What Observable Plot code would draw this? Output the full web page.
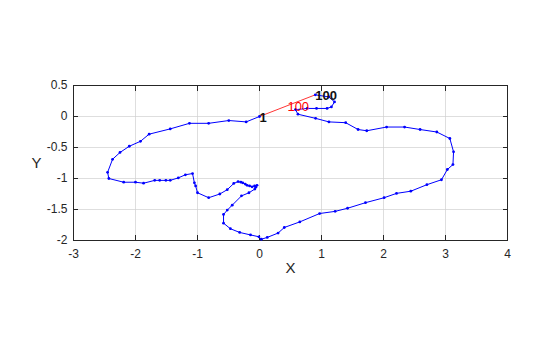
<!DOCTYPE html>
<html>
<head>
<meta charset="utf-8">
<script src="https://cdn.jsdelivr.net/npm/d3@7"></script>
<script src="https://cdn.jsdelivr.net/npm/@observablehq/plot@0.6"></script>
<style>
  html, body { margin: 0; padding: 0; background: #fff; }
  #chart { width: 560px; height: 337px; }
</style>
</head>
<body>
<div id="chart"></div>
<script>
// Path points (1 .. 100)
const xs = [0, -0.215, -0.495, -0.82, -1.13, -1.44, -1.78, -1.92, -2.10, -2.25,
  -2.37, -2.45, -2.43, -2.19, -2.00, -1.87, -1.69, -1.61, -1.51, -1.44,
  -1.31, -1.195, -1.08, -1.05, -1.03, -1.00, -0.82, -0.64, -0.52, -0.415,
  -0.345, -0.30, -0.27, -0.23, -0.20, -0.16, -0.12, -0.08, -0.04, -0.06,
  -0.075, -0.17, -0.29, -0.44, -0.52, -0.58, -0.58, -0.47, -0.32, -0.145,
  -0.01, 0.03, 0.125, 0.30, 0.40, 0.65, 0.97, 1.22, 1.42, 1.71,
  2.01, 2.21, 2.44, 2.70, 2.935, 3.03, 3.12, 3.13, 3.07, 2.86,
  2.59, 2.34, 2.05, 1.73, 1.59, 1.39, 1.12, 0.905, 0.62, 0.58,
  0.77, 0.92, 1.09, 1.16, 1.21, 1.12, 0.90];
const ys = [0, -0.087, -0.065, -0.11, -0.11, -0.20, -0.285, -0.40, -0.48, -0.58,
  -0.69, -0.90, -1.00, -1.06, -1.06, -1.076, -1.03, -1.03, -1.03, -1.03,
  -0.99, -0.94, -0.92, -1.07, -1.12, -1.23, -1.31, -1.25, -1.18, -1.08,
  -1.05, -1.06, -1.07, -1.09, -1.11, -1.12, -1.135, -1.12, -1.11, -1.14,
  -1.17, -1.23, -1.28, -1.43, -1.51, -1.58, -1.72, -1.81, -1.87, -1.91,
  -1.94, -1.98, -1.95, -1.88, -1.79, -1.70, -1.565, -1.53, -1.48, -1.39,
  -1.31, -1.24, -1.205, -1.10, -1.02, -0.855, -0.775, -0.57, -0.355, -0.25,
  -0.21, -0.17, -0.17, -0.23, -0.21, -0.10, -0.087, -0.03, 0.037, 0.11,
  0.13, 0.13, 0.13, 0.155, 0.235, 0.315, 0.35];

const xTicks = [-3, -2, -1, 0, 1, 2, 3, 4];
const yTicks = [-2, -1.5, -1, -0.5, 0, 0.5];
const endLabels = ["1", "100"];
const midLabel = "100";
const xLabel = "X";
const yLabel = "Y";

const pts = xs.map((x, i) => ({x, y: ys[i]}));
const first = pts[0], last = pts[pts.length - 1];
const ends = [{...first, t: endLabels[0]}, {...last, t: endLabels[1]}];
const mid = [{x: (first.x + last.x) / 2, y: (first.y + last.y) / 2, t: midLabel}];

const font = "'Liberation Sans', Arial, Helvetica, sans-serif";
const ink = "#262626";

const chart = Plot.plot({
  width: 560,
  height: 337,
  marginLeft: 73,
  marginRight: 53,
  marginTop: 85,
  marginBottom: 97,
  style: {fontFamily: font, fontSize: "12px", color: ink, background: "#fff"},
  x: {domain: [-3, 4]},
  y: {domain: [-2, 0.5]},
  marks: [
    Plot.gridX(xTicks, {stroke: "#d0d0d0", strokeOpacity: 1, strokeWidth: 0.7}),
    Plot.gridY(yTicks, {stroke: "#d0d0d0", strokeOpacity: 1, strokeWidth: 0.7}),
    Plot.axisX(xTicks, {anchor: "bottom", tickSize: 0, tickPadding: 9, label: null, fontSize: 12, fill: ink,
      tickFormat: d => String(d)}),
    Plot.axisY(yTicks, {anchor: "left", tickSize: 0, tickPadding: 6, label: null, fontSize: 12, fill: ink,
      tickFormat: d => String(d)}),
    Plot.axisX(xTicks, {anchor: "bottom", tickSize: 5, dy: -5, tickFormat: () => "", label: null, stroke: ink}),
    Plot.axisX(xTicks, {anchor: "top", tickSize: 5, dy: 5, tickFormat: () => "", label: null, stroke: ink}),
    Plot.axisY(yTicks, {anchor: "left", tickSize: 5, dx: 5, tickFormat: () => "", label: null, stroke: ink}),
    Plot.axisY(yTicks, {anchor: "right", tickSize: 5, dx: -5, tickFormat: () => "", label: null, stroke: ink}),
    Plot.frame({stroke: ink, strokeWidth: 1}),
    Plot.line([first, last], {x: "x", y: "y", stroke: "red", strokeWidth: 0.8}),
    Plot.line(pts, {x: "x", y: "y", stroke: "blue", strokeWidth: 1}),
    Plot.dot(pts, {x: "x", y: "y", r: 1.4, fill: "blue", stroke: "none"}),
    Plot.text(mid, {x: "x", y: "y", text: "t", fill: "red", textAnchor: "start", fontSize: 13, dy: 1}),
    Plot.text(ends, {x: "x", y: "y", text: "t", fill: "#111", textAnchor: "start", fontSize: 13, fontWeight: "bold", dy: 1}),
    Plot.text([xLabel], {text: d => d, frameAnchor: "bottom", dy: 32, fontSize: 15, fill: ink}),
    Plot.text([yLabel], {text: d => d, frameAnchor: "left", dx: -42, fontSize: 15, fill: ink})
  ]
});
document.getElementById("chart").appendChild(chart);
</script>
</body>
</html>
